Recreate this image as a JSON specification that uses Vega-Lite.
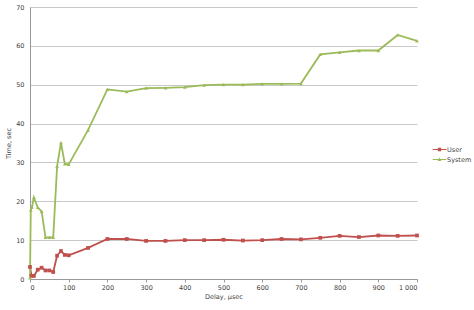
{
  "$schema": "https://vega.github.io/schema/vega-lite/v6.json",
  "autosize": "none",
  "width": 387,
  "height": 272,
  "padding": {"left": 30, "top": 7, "right": 57, "bottom": 31},
  "background": "white",
  "data": {"values": [
    {"delay": 0, "series": "User", "time": 3.1},
    {"delay": 4, "series": "User", "time": 0.8},
    {"delay": 10, "series": "User", "time": 0.8},
    {"delay": 20, "series": "User", "time": 2.4},
    {"delay": 30, "series": "User", "time": 2.9},
    {"delay": 40, "series": "User", "time": 2.2},
    {"delay": 50, "series": "User", "time": 2.2},
    {"delay": 60, "series": "User", "time": 1.8},
    {"delay": 70, "series": "User", "time": 6.0},
    {"delay": 80, "series": "User", "time": 7.2},
    {"delay": 90, "series": "User", "time": 6.2},
    {"delay": 100, "series": "User", "time": 6.1},
    {"delay": 150, "series": "User", "time": 8.0},
    {"delay": 200, "series": "User", "time": 10.3},
    {"delay": 250, "series": "User", "time": 10.3},
    {"delay": 300, "series": "User", "time": 9.8},
    {"delay": 350, "series": "User", "time": 9.8},
    {"delay": 400, "series": "User", "time": 10.0},
    {"delay": 450, "series": "User", "time": 10.0},
    {"delay": 500, "series": "User", "time": 10.1},
    {"delay": 550, "series": "User", "time": 9.9},
    {"delay": 600, "series": "User", "time": 10.0},
    {"delay": 650, "series": "User", "time": 10.3},
    {"delay": 700, "series": "User", "time": 10.2},
    {"delay": 750, "series": "User", "time": 10.6},
    {"delay": 800, "series": "User", "time": 11.1},
    {"delay": 850, "series": "User", "time": 10.8},
    {"delay": 900, "series": "User", "time": 11.2},
    {"delay": 950, "series": "User", "time": 11.1},
    {"delay": 1000, "series": "User", "time": 11.2},
    {"delay": 0, "series": "System", "time": 0.3},
    {"delay": 2, "series": "System", "time": 17.8},
    {"delay": 5, "series": "System", "time": 18.5},
    {"delay": 10, "series": "System", "time": 21.0},
    {"delay": 20, "series": "System", "time": 18.4},
    {"delay": 30, "series": "System", "time": 17.4},
    {"delay": 40, "series": "System", "time": 10.7},
    {"delay": 50, "series": "System", "time": 10.7},
    {"delay": 60, "series": "System", "time": 10.7},
    {"delay": 70, "series": "System", "time": 29.0},
    {"delay": 80, "series": "System", "time": 35.1},
    {"delay": 90, "series": "System", "time": 29.6},
    {"delay": 100, "series": "System", "time": 29.5},
    {"delay": 150, "series": "System", "time": 38.3},
    {"delay": 200, "series": "System", "time": 48.8},
    {"delay": 250, "series": "System", "time": 48.2},
    {"delay": 300, "series": "System", "time": 49.1},
    {"delay": 350, "series": "System", "time": 49.2},
    {"delay": 400, "series": "System", "time": 49.4},
    {"delay": 450, "series": "System", "time": 49.9},
    {"delay": 500, "series": "System", "time": 50.0},
    {"delay": 550, "series": "System", "time": 50.0},
    {"delay": 600, "series": "System", "time": 50.2},
    {"delay": 650, "series": "System", "time": 50.2},
    {"delay": 700, "series": "System", "time": 50.3},
    {"delay": 750, "series": "System", "time": 57.8},
    {"delay": 800, "series": "System", "time": 58.3},
    {"delay": 850, "series": "System", "time": 58.8},
    {"delay": 900, "series": "System", "time": 58.8},
    {"delay": 950, "series": "System", "time": 62.8},
    {"delay": 1000, "series": "System", "time": 61.3}
  ]},
  "config": {
    "view": {"stroke": null},
    "font": "DejaVu Sans",
    "axis": {"labelFont": "DejaVu Sans", "titleFont": "DejaVu Sans", "labelColor": "#444", "titleColor": "#444", "labelFontSize": 6.5, "titleFontSize": 6.5, "titleFontWeight": "normal", "domainColor": "#999", "tickColor": "#999", "gridColor": "#c8c8c8"},
    "legend": {"labelFont": "DejaVu Sans", "labelFontSize": 6.5, "labelColor": "#444"}
  },
  "encoding": {
    "x": {"field": "delay", "type": "quantitative", "scale": {"domain": [0, 1000], "nice": false},
          "axis": {"title": "Delay, µsec", "values": [0,100,200,300,400,500,600,700,800,900,1000], "grid": false, "tickSize": 3, "labelPadding": 2, "titlePadding": 3, "labelExpr": "datum.value == 1000 ? '1 000' : datum.label"}},
    "y": {"field": "time", "type": "quantitative", "scale": {"domain": [0, 70], "nice": false},
          "axis": {"title": "Time, sec", "values": [0,10,20,30,40,50,60,70], "grid": true, "ticks": false, "labelPadding": 6, "titlePadding": 4}},
    "color": {"field": "series", "type": "nominal", "scale": {"domain": ["User", "System"], "range": ["#c0504d", "#9bbb59"]},
              "legend": {"title": null, "orient": "none", "legendX": 404, "legendY": 137, "symbolSize": 121, "symbolStrokeWidth": 0, "rowPadding": 1, "labelOffset": 2,
                         "encode": {"symbols": {"update": {"shape": {"signal": "datum.value == 'User' ? 'M-1.25,-0.09 L1.25,-0.09 L1.25,0.09 L-1.25,0.09 Z M-0.3,-0.3 L0.3,-0.3 L0.3,0.3 L-0.3,0.3 Z' : 'M-1.25,-0.09 L1.25,-0.09 L1.25,0.09 L-1.25,0.09 Z M0,-0.35 L0.35,0.28 L-0.35,0.28 Z'"}, "fillOpacity": {"value": 1}, "strokeWidth": {"value": 0}}}}}}
  },
  "layer": [
    {"mark": {"type": "line", "strokeWidth": 1.8}},
    {"mark": {"type": "point", "filled": true, "opacity": 1},
     "encoding": {"shape": {"condition": {"test": "datum.series == 'User'", "value": "square"}, "value": "triangle-up"},
                  "size": {"value": 14}}}
  ]
}
